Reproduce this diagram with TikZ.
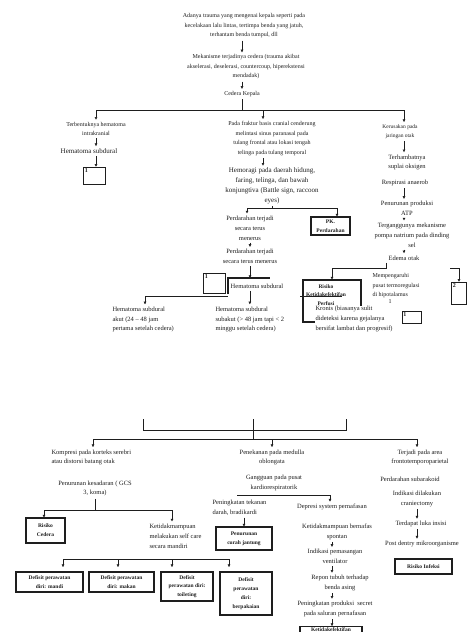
\documentclass[tikz,border=0pt]{standalone}
\usepackage{fontspec}
\setmainfont{Liberation Serif}
\usetikzlibrary{arrows.meta,positioning,calc}
\definecolor{ink}{HTML}{1E1E1E}

\tikzset{
  txt/.style={text=ink,align=center,inner sep=0.5pt,outer sep=2pt,
    font=\fontsize{6}{9.5}\selectfont},
  txtm/.style={txt,font=\fontsize{6.5}{9.8}\selectfont},
  txtl/.style={txt,font=\fontsize{7}{9.8}\selectfont},
  bbox/.style={draw=ink,line width=1.1pt,text=ink,align=center,inner sep=1pt,
    font=\bfseries\fontsize{5.5}{8.8}\selectfont},
  numbox/.style={draw=ink,line width=0.6pt,inner sep=0pt},
  numlab/.style={text=ink,font=\bfseries\fontsize{6}{7}\selectfont,inner sep=2pt},
  arr/.style={draw=ink,line width=0.45pt,-{Triangle[length=2.6pt,width=2.6pt]}},
  ln/.style={draw=ink,line width=0.45pt},
}

\begin{document}
\begin{tikzpicture}[x=1pt,y=-1pt]
  \clip (0,0) rectangle (474,632);
  \fill[white] (0,0) rectangle (474,632);

  % ---- top: cause
  \node[txt] (trauma) at (244,26)
    {Adanya trauma yang mengenai kepala seperti pada\\kecelakaan lalu lintas, tertimpa benda yang jatuh,\\terhantam benda tumpul, dll};
  \node[txt] (mekanisme) at (246,67)
    {Mekanisme terjadinya cedera (trauma akibat\\akselerasi, deselerasi, countercoup, hiperekstensi\\mendadak)};
  \node[txt] (cedera) at (242,94) {Cedera Kepala};
  \coordinate (ax) at (242,0);
  \draw[arr] (trauma.south -| ax) -- (mekanisme.north -| ax);
  \draw[arr] (mekanisme.south -| ax) -- (cedera.north -| ax);

  \coordinate (bL) at (96,110);
  \coordinate (bM) at (263,110);
  \coordinate (bR) at (404,110);
  \draw[ln] (cedera.south) -- (cedera.south |- bM);
  \draw[ln] (bL) -- (bR);

  % ---- left branch
  \node[txt] (terbentuk) at (96,129) {Terbentuknya hematoma\\intrakranial};
  \node[txtl] (hsdA) at (89,151) {Hematoma subdural};
  \node[numbox,minimum width=22,minimum height=17,
    label={[numlab,anchor=north west]north west:1}] (boxA) at (94,175.5) {};
  \draw[arr] (bL) -- (terbentuk.north -| bL);
  \draw[arr] (terbentuk.south -| bL) -- (hsdA.north -| bL);
  \draw[arr] (hsdA.south -| bL) -- (boxA.north -| bL);

  % ---- middle branch
  \node[txt] (fraktur) at (272,138.5)
    {Pada fraktur basis cranial cenderung\\melintasi sinus paranasal pada\\tulang frontal atau lokasi tengah\\telinga pada tulang temporal};
  \node[txtl] (hemoragi) at (272,186)
    {Hemoragi pada daerah hidung,\\faring, telinga, dan bawah\\konjungtiva (Battle sign, raccoon\\eyes)};
  \draw[arr] (bM) -- (fraktur.north -| bM);
  \draw[arr] (fraktur.south -| bM) -- (hemoragi.north -| bM);

  \coordinate (cL) at (247,208);
  \coordinate (cR) at (337,208);
  \draw[ln] (hemoragi.south) -- (hemoragi.south |- cL);
  \draw[ln] (cL) -- (cR);

  \node[txtm] (perdA) at (250,228) {Perdarahan terjadi\\secara terus\\menerus};
  \node[txtm] (perdB) at (250,256.5) {Perdarahan terjadi\\secara terus menerus};
  \node[bbox,minimum width=39,minimum height=18] (pk) at (330.5,226) {PK.\\Perdarahan};
  \draw[arr] (cL) -- (perdA.north -| cL);
  \draw[arr] (cR) -- (pk.north -| cR);
  \draw[arr] (perdA.south) -- (perdB.north);

  \node[numbox,minimum width=22,minimum height=20,
    label={[numlab,anchor=north west]north west:1}] (boxB) at (214,283) {};
  \coordinate (brk) at (228,278);
  \draw[ink,line width=1.5pt] (228,294) -- (brk) -- (270,278);
  \node[txtm] (hsdB) at (257,286) {Hematoma subdural};
  \draw[arr] (perdB.south) -- (perdB.south |- brk);

  \node[txtm,align=left,anchor=west] (akut) at (110,319.5)
    {Hematoma subdural\\akut (24 -- 48 jam\\pertama setelah cedera)};
  \node[txtm,align=left,anchor=west] (subakut) at (213,319.5)
    {Hematoma subdural\\subakut (> 48 jam tapi < 2\\minggu setelah cedera)};
  \coordinate (sL) at (145,296);
  \coordinate (sR) at (228,296);
  \draw[ln] (sL) -- (sR);
  \draw[arr] (sL) -- (sL |- akut.north);
  \draw[arr] (hsdB.south -| subakut.north) -- (subakut.north);

  % ---- right branch
  \node[txt,font=\fontsize{5.5}{9}\selectfont] (kerusakan) at (400,131.5)
    {Kerusakan pada\\jaringan otak};
  \node[txtm] (terhambat) at (407,162.5) {Terhambatnya\\suplai oksigen};
  \node[txtm] (respirasi) at (405,183) {Respirasi anaerob};
  \node[txtm] (atp) at (407,208.5) {Penurunan produksi\\ATP};
  \node[txtm] (pompa) at (412,235) {Terganggunya mekanisme\\pompa natrium pada dinding\\sel};
  \node[txtm] (edema) at (404,258) {Edema otak};
  \coordinate (axR) at (404,0);
  \draw[arr] (bR) -- (kerusakan.north -| bR);
  \draw[arr] (kerusakan.south -| axR) -- (terhambat.north -| axR);
  \draw[arr] (respirasi.south -| axR) -- (atp.north -| axR);
  \draw[arr] (atp.south -| axR) -- (pompa.north -| axR);
  \draw[arr] (pompa.south -| axR) -- (edema.north -| axR);

  \node[numbox,minimum width=58,minimum height=42,line width=1.1pt] (rkp) at (332,301) {};
  \node[txt,font=\bfseries\fontsize{5.5}{8.5}\selectfont] (rkptxt) at (326,295)
    {Risiko\\Ketidakefektifan\\Perfusi};
  \draw[ln] (300,296) -- (342,296);
  \coordinate (eL) at (332,268);
  \coordinate (eA) at (450,268);
  \coordinate (eB) at (459,268);
  \draw[ln] (edema.south west) |- (eL);
  \draw[arr] (eL) -- (rkp.north -| eL);
  \draw[ln] (eA) -- (eB);

  \node[txt,align=left,anchor=west] (mempeng) at (370,286)
    {Mempengaruhi\\pusat termoregulasi\\di hipotalamus};
  \node[txt] (satu) at (390,302) {1};
  \node[numbox,minimum width=15,minimum height=22,
    label={[numlab,anchor=north west]north west:2}] (boxD) at (458.5,293) {};
  \draw[arr] (eB) -- (boxD.north -| eB);

  \node[numbox,minimum width=19,minimum height=12,
    label={[numlab,anchor=north west,inner sep=1.5pt]north west:1}] (boxC) at (411.5,317) {};
  \node[txtm,align=left,anchor=west,fill=white] (kronis) at (313,319)
    {Kronis (biasanya sulit\\dideteksi karena gejalanya\\bersifat lambat dan progresif)};

  % ---- lower page
  \draw[ln] (143,419) -- (143,430) -- (346,430) -- (346,419);
  \coordinate (tk) at (253,419);
  \coordinate (gL) at (93,439);
  \coordinate (gR) at (417,439);
  \draw[ln] (tk) -- (tk |- gL);
  \draw[ln] (gL) -- (gR);
  \foreach \x in {93,272,417}
    \draw[arr] (\x,439) -- ++(0,8);

  % left
  \node[txtm,align=left,anchor=west] (kompresi) at (49,457.5)
    {Kompresi pada korteks serebri\\atau distorsi batang otak};
  \node[txtm] (kesadaran) at (95,488.5) {Penurunan kesadaran ( GCS\\3, koma)};
  \coordinate (kL) at (44,510);
  \coordinate (kR) at (172,510);
  \draw[ln] (kesadaran.south) -- (kesadaran.south |- kL);
  \draw[ln] (kL) -- (kR);
  \node[bbox,minimum width=39,minimum height=25] (rcedera) at (45.5,530.5) {Risiko\\Cedera};
  \node[txtm,align=left,anchor=west] (selfcare) at (147,536)
    {Ketidakmampuan\\melakukan self care\\secara mandiri};
  \draw[arr] (kL) -- (rcedera.north -| kL);
  \draw[arr] (kR) -- (kR |- selfcare.north);

  \coordinate (dL) at (63,559);
  \coordinate (dR) at (229,559);
  \draw[ln] (dL) -- (dR);
  \foreach \x in {63,118,172,229}
    \draw[arr] (\x,559) -- ++(0,8);
  \node[bbox,minimum width=67,minimum height=20] (dmandi) at (49.5,582) {Defisit perawatan\\diri: mandi};
  \node[bbox,minimum width=65,minimum height=20] (dmakan) at (121.5,582) {Defisit perawatan\\diri: makan};
  \node[bbox,minimum width=52,minimum height=29] (dtoilet) at (187,586.5) {Defisit\\perawatan diri:\\toileting};
  \node[bbox,minimum width=52,minimum height=43] (dpakai) at (246,593.5) {Defisit\\perawatan\\diri:\\berpakaian};

  % middle
  \node[txtm] (penekanan) at (272,457.5) {Penekanan pada medulla\\oblongata};
  \node[txtm] (gangguan) at (274,483) {Gangguan pada pusat\\kardiorespiratorik};
  \coordinate (hL) at (237,495);
  \coordinate (hR) at (330,495);
  \draw[ln] (hL) -- (hR);
  \node[txtm,align=left,anchor=west] (tekanan) at (210,507.5) {Peningkatan tekanan\\darah, bradikardi};
  \node[bbox,minimum width=56,minimum height=23] (curah) at (244,538.5) {Penurunan\\curah jantung};
  \draw[arr] (tekanan.south -| curah) -- (curah);

  \node[txtm] (depresi) at (332,507) {Depresi system pernafasan};
  \node[txtm] (spontan) at (337,531.5) {Ketidakmampuan bernafas\\spontan};
  \node[txtm] (ventilator) at (335,556.5) {Indikasi pemasangan\\ventilator};
  \node[txtm] (asing) at (340,583) {Repon tubuh terhadap\\benda asing};
  \node[txtm] (secret) at (335,609) {Peningkatan produksi\ \ secret\\pada saluran pernafasan};
  \node[bbox,anchor=north,minimum width=62,text depth=12pt,inner sep=1.5pt] (kbjn) at (331,626) {Ketidakefektifan};
  \coordinate (axM) at (332,0);
  \draw[arr] (hR) -- (depresi.north -| hR);
  \draw[arr] (spontan.south -| axM) -- (ventilator.north -| axM);
  \draw[arr] (ventilator.south -| axM) -- (asing.north -| axM);
  \draw[arr] (asing.south -| axM) -- (secret.north -| axM);
  \draw[arr] (secret.south -| axM) -- (kbjn.north -| axM);

  % right
  \node[txtm] (terjadi) at (420,457.5) {Terjadi pada area\\frontotemporoparietal};
  \node[txtm] (subarak) at (410,479) {Perdarahan subarakoid};
  \node[txtm] (craniec) at (417,499) {Indikasi dilakukan\\craniectomy};
  \node[txtm] (insisi) at (421,524) {Terdapat luka insisi};
  \node[txtm] (postd) at (422,544) {Post dentry mikroorganisme};
  \node[bbox,minimum width=57,minimum height=15] (rinfeksi) at (423.5,566.5) {Risiko Infeksi};
  \coordinate (axI) at (417,0);
  \draw[arr] (craniec.south -| axI) -- (insisi.north -| axI);
  \draw[arr] (insisi.south -| axI) -- (postd.north -| axI);
\end{tikzpicture}
\end{document}
